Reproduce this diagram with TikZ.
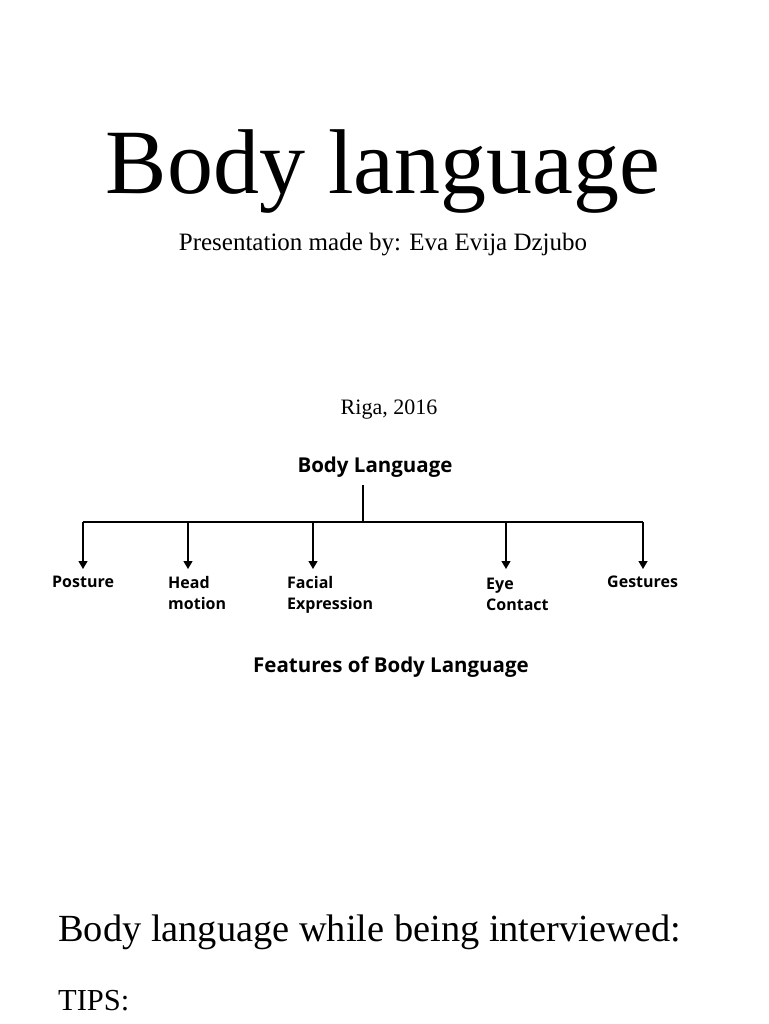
\documentclass[tikz,border=0pt]{standalone}
\usepackage{fontspec}
\setmainfont{Liberation Serif}
\newfontfamily\diag{Open Sans}
\usetikzlibrary{arrows.meta}
\begin{document}
\begin{tikzpicture}[x=1pt,y=-1pt,
  lab/.style={font=\diag\bfseries\fontsize{16}{21}\selectfont,align=left,inner sep=0pt,anchor=north west},
  arr/.style={line width=1.3pt,-{Triangle[length=8pt,width=9pt]}}]
\useasboundingbox[fill=white] (0,0) rectangle (768,1024);
\node (title) at (383,172) {\fontsize{92}{100}\selectfont Body language};
\node (sub) at (383,245) {\fontsize{25}{28}\selectfont Presentation made by: Eva Evija Dzjubo};
\node (riga) at (389,410) {\fontsize{22}{26}\selectfont Riga, 2016};
\node[font=\diag\bfseries\fontsize{20.5}{24}\selectfont] (root) at (375,467) {Body Language};
\coordinate (top) at (363,485);
\coordinate (mid) at (363,522);
\coordinate (l) at (83,522);
\coordinate (r) at (643,522);
\draw[line width=1.3pt] (top) -- (mid) (l) -- (r);
\foreach \x/\n in {83/a,188/b,313/c,506/d,643/e}{
  \coordinate (s\n) at (\x,522);
  \coordinate (t\n) at (\x,569);
  \draw[arr] (s\n) -- (t\n);
}
\node[lab] (posture) at (52,576) {Posture};
\node[lab] (head) at (168,576) {Head\\motion};
\node[lab] (facial) at (287,576) {Facial\\Expression};
\node[lab] (eye) at (486,578) {Eye\\Contact};
\node[lab] (gest) at (607,576) {Gestures};
\node[font=\diag\bfseries\fontsize{20.5}{24}\selectfont] (feat) at (391,667) {Features of Body Language};
\node[anchor=west,inner sep=0pt] (inter) at (58,932) {\fontsize{38.4}{44}\selectfont Body language while being interviewed:};
\node[anchor=west,inner sep=0pt] (tips) at (58,1001) {\fontsize{30.5}{34}\selectfont TIPS:};
\end{tikzpicture}
\end{document}
